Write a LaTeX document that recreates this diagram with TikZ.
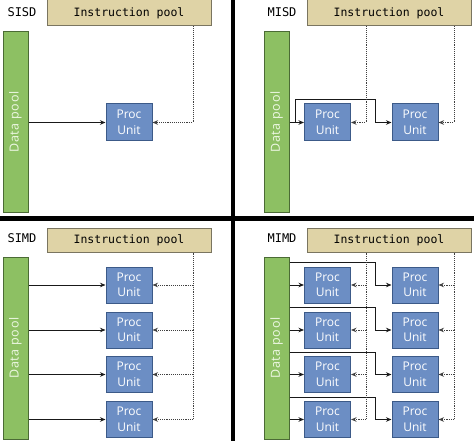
\documentclass[tikz,border=0pt]{standalone}
\usepackage{fontspec}
\setsansfont{Open Sans}
\setmonofont{DejaVu Sans Mono}
\newfontfamily\poolfont[LetterSpace=5]{Open Sans}
\usepackage{tikz}
\usetikzlibrary{arrows.meta, positioning}
\definecolor{ProcBlue}{HTML}{6C8EC4}
\definecolor{ProcEdge}{HTML}{3C5A88}
\definecolor{InstrTan}{HTML}{DFD3A6}
\definecolor{InstrEdge}{HTML}{7A7560}
\definecolor{DataGreen}{HTML}{8DC063}
\definecolor{DataEdge}{HTML}{4B6B35}
\definecolor{DataText}{HTML}{EEF8E4}
\tikzset{
  procbox/.style={rectangle, draw=ProcEdge, fill=ProcBlue, line width=1pt, text=white, minimum width=46pt, minimum height=37pt, inner sep=0pt, font=\sffamily\fontsize{12}{15.5}\selectfont, align=center},
  instrbox/.style={rectangle, draw=InstrEdge, fill=InstrTan, line width=1pt, minimum width=164pt, minimum height=24pt, inner sep=0pt, font=\ttfamily\fontsize{11.5}{12}\selectfont},
  databox/.style={rectangle, draw=DataEdge, fill=DataGreen, line width=1pt, text=DataText, rotate=90, minimum height=25pt, inner sep=0pt, font=\poolfont\fontsize{12.5}{12.5}\selectfont},
  tagnode/.style={font=\ttfamily\fontsize{12}{12}\selectfont},
  dataarrow/.style={-{Stealth[length=5.5pt,width=4.5pt]}, line width=1pt, black!90},
  ctrlline/.style={line width=0.9pt, densely dotted, black!75},
  ctrlarrow/.style={ctrlline, -{Stealth[length=5.5pt,width=4.5pt]}},
  divider/.style={line width=4.5pt, black}
}
\begin{document}
\begin{tikzpicture}[x=1pt, y=-1pt]
  \useasboundingbox (0,0) rectangle (474,441);

  % SISD
  \node[tagnode] (sisd) at (22,12) {SISD};
  \node[instrbox, minimum height=26pt] (ipA) at (129,13) {Instruction pool};
  \node[databox, minimum width=180pt] (dpA) at (15.5,122) {Data pool};
  \node[procbox] (puA) at (129,122.5) {Proc\\Unit};
  \path (ipA.south) ++(64pt,0pt) coordinate (tapA);
  \draw[dataarrow] (dpA.south |- puA.west) -- (puA.west);
  \draw[ctrlarrow] (tapA) |- (puA.east);

  % MISD
  \node[tagnode] (misd) at (282,12) {MISD};
  \node[instrbox, minimum height=26pt] (ipB) at (389,13) {Instruction pool};
  \node[databox, minimum width=180pt] (dpB) at (276.5,122) {Data pool};
  \node[procbox] (puB1) at (327.5,122.5) {Proc\\Unit};
  \node[procbox] (puB2) at (415,122.5) {Proc\\Unit};
  \path (ipB.south) ++(-23pt,0pt) coordinate (tapB1);
  \path (ipB.south) ++(65pt,0pt) coordinate (tapB2);
  \draw[dataarrow] (dpB.south |- puB1.west) -- (puB1.west);
  \draw[dataarrow] ([xshift=6pt]dpB.south |- puB1.west) -- ++(0pt,23pt) -| ([xshift=-16pt]puB2.west) -- (puB2.west);
  \draw[ctrlarrow] (tapB1) |- (puB1.east);
  \draw[ctrlarrow] (tapB2) |- (puB2.east);

  % SIMD
  \node[tagnode] (simd) at (22,238.5) {SIMD};
  \node[instrbox] (ipC) at (129,240) {Instruction pool};
  \node[databox, minimum width=182pt] (dpC) at (15.5,348) {Data pool};
  \path (ipC.south) ++(64pt,0pt) coordinate (tapC);
  \foreach \i/\y in {1/285,2/330,3/374.5,4/419.5} {
    \node[procbox, minimum height=36pt] (puC\i) at (129,\y) {Proc\\Unit};
    \draw[dataarrow] (dpC.south |- puC\i.west) -- (puC\i.west);
    \draw[ctrlarrow] (tapC |- puC\i.east) -- (puC\i.east);
  }
  \draw[ctrlline] (tapC) -- (tapC |- puC4.east);

  % MIMD
  \node[tagnode] (mimd) at (282,238.5) {MIMD};
  \node[instrbox] (ipD) at (389,240) {Instruction pool};
  \node[databox, minimum width=182pt] (dpD) at (276.5,348) {Data pool};
  \path (ipD.south) ++(-23pt,0pt) coordinate (tapD1);
  \path (ipD.south) ++(65pt,0pt) coordinate (tapD2);
  \foreach \i/\y in {1/285,2/330,3/374.5,4/419.5} {
    \node[procbox, minimum height=36pt] (puD\i) at (327.5,\y) {Proc\\Unit};
    \node[procbox, minimum height=36pt] (puE\i) at (415,\y) {Proc\\Unit};
    \draw[dataarrow] (dpD.south |- puD\i.west) -- (puD\i.west);
    \draw[dataarrow] ([yshift=22.5pt]dpD.south |- puD\i.west) -| ([xshift=-16pt]puE\i.west) -- (puE\i.west);
    \draw[ctrlarrow] (tapD1 |- puD\i.east) -- (puD\i.east);
    \draw[ctrlarrow] (tapD2 |- puE\i.east) -- (puE\i.east);
  }
  \draw[ctrlline] (tapD1) -- (tapD1 |- puD4.east);
  \draw[ctrlline] (tapD2) -- (tapD2 |- puE4.east);

  % Dividers
  \draw[divider] (233,0) -- (233,441);
  \draw[divider] (0,218.5) -- (474,218.5);
\end{tikzpicture}
\end{document}
